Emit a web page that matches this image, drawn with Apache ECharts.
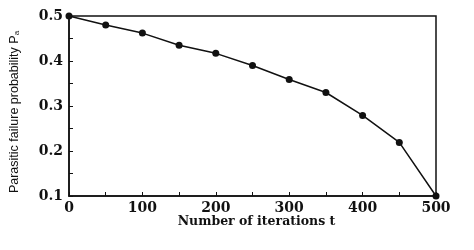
<!DOCTYPE html>
<html>
<head>
<meta charset="utf-8">
<script src="https://cdn.jsdelivr.net/npm/echarts@6/dist/echarts.min.js"></script>
<style>html,body{margin:0;padding:0;background:#fff}#c{width:474px;height:250px}</style>
</head>
<body>
<div id="c"></div>
<script>
var iterations = [0, 50, 100, 150, 200, 250, 300, 350, 400, 450, 500];
var failureProb = [0.5, 0.48, 0.462, 0.435, 0.417, 0.39, 0.359, 0.33, 0.279, 0.219, 0.1];
var xName = 'Number of iterations t';
var yName = 'Parasitic failure probability P';
var ySub = 'a';

var chart = echarts.init(document.getElementById('c'), null, {renderer: 'canvas'});
var tickFont = {fontFamily: 'DejaVu Serif', fontWeight: 'bold', fontSize: 14, color: '#111'};
chart.setOption({
  animation: false,
  backgroundColor: '#fff',
  grid: {left: 69, right: 38, top: 16, bottom: 54, show: true, borderColor: '#111', borderWidth: 1.5, containLabel: false, outerBoundsMode: 'none'},
  xAxis: {
    type: 'value', min: 0, max: 500, interval: 100,
    name: xName, nameLocation: 'middle', nameGap: 19, nameMoveOverlap: false,
    nameTextStyle: {fontFamily: 'DejaVu Serif', fontWeight: 'bold', fontSize: 12.5, color: '#111', padding: [0, 0, 0, 8]},
    axisLine: {lineStyle: {color: '#111', width: 1.5}},
    axisTick: {inside: true, length: 4, lineStyle: {color: '#111'}},
    minorTick: {show: true, splitNumber: 2, length: 4, lineStyle: {color: '#111'}},
    axisLabel: Object.assign({margin: 5}, tickFont),
    splitLine: {show: false}
  },
  yAxis: {
    type: 'value', min: 0.1, max: 0.5, interval: 0.1,
    name: '{a|' + yName + '}{s|' + ySub + '}', nameLocation: 'middle', nameGap: 48, nameMoveOverlap: false,
    nameTextStyle: {
      rich: {
        a: {fontFamily: 'Liberation Sans', fontSize: 12.5, color: '#111'},
        s: {fontFamily: 'Liberation Sans', fontSize: 8, color: '#111', verticalAlign: 'bottom', padding: [4, 0, 0, 0]}
      },
      padding: [0, 12, 0, 0]
    },
    axisLine: {lineStyle: {color: '#111', width: 1.5}},
    axisTick: {inside: true, length: 4, lineStyle: {color: '#111'}},
    minorTick: {show: true, splitNumber: 2, length: 4, lineStyle: {color: '#111'}},
    axisLabel: Object.assign({margin: 6, formatter: function (v) { return v.toFixed(1); }}, tickFont),
    splitLine: {show: false}
  },
  series: [{
    type: 'line',
    data: iterations.map(function (x, i) { return [x, failureProb[i]]; }),
    symbol: 'circle', symbolSize: 7,
    itemStyle: {color: '#111'},
    lineStyle: {color: '#111', width: 1.5}
  }]
});
</script>
</body>
</html>
